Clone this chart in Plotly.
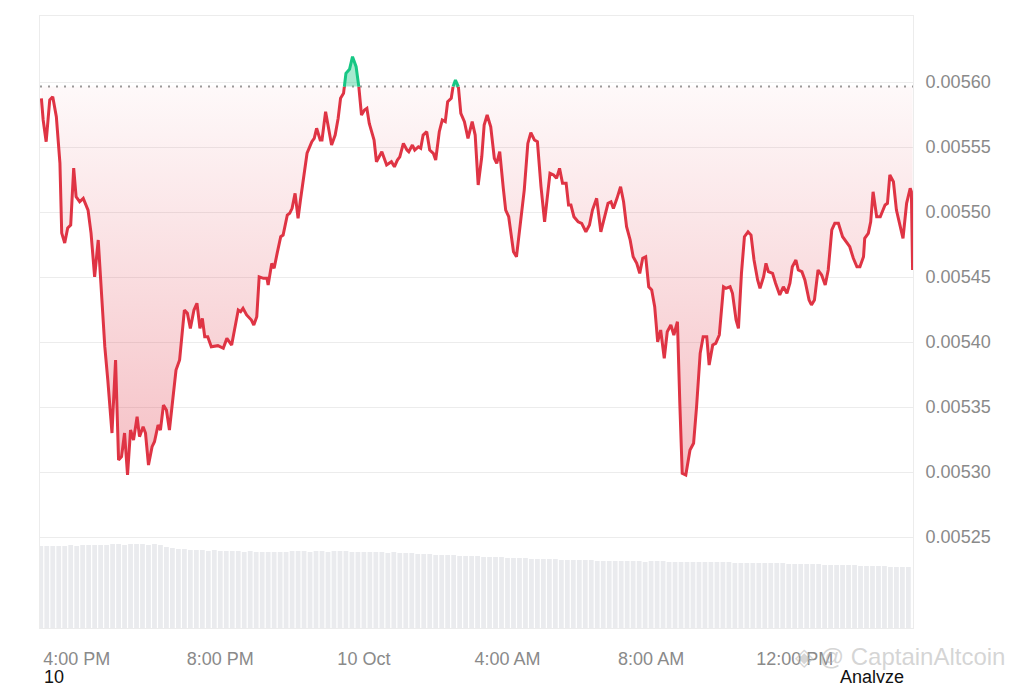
import numpy as np
import pandas as pd
import plotly.graph_objects as go

# ---------------- data ----------------
start_time = pd.Timestamp("2024-10-09 15:00")
baseline_price = 0.0055965

minutes = [1, 4, 9, 15, 20, 26, 32, 35, 40, 45, 50, 55, 59, 65, 71, 79, 84, 90, 96, 101,
           107, 112, 119, 125, 130, 135, 140, 145, 150, 155, 161, 165, 171, 175, 180, 186, 190, 196, 200, 205,
           210, 215, 221, 226, 232, 240, 245, 250, 256, 261, 266, 270, 274, 279, 285, 296, 305, 311, 319, 330,
           334, 338, 344, 352, 356, 361, 365, 372, 378, 380, 386, 390, 395, 401, 405, 412, 416, 420, 425, 430,
           434, 440, 445, 453, 457, 461, 467, 470, 476, 480, 486, 492, 497, 501, 506, 510, 516, 521, 527, 531,
           536, 541, 545, 549, 554, 557, 561, 570, 578, 586, 591, 596, 600, 606, 612, 615, 621, 625, 631, 635,
           639, 645, 650, 656, 660, 666, 671, 676, 680, 686, 689, 693, 698, 702, 708, 714, 721, 726, 731, 737,
           741, 746, 752, 758, 762, 767, 773, 777, 782, 790, 795, 801, 808, 814, 819, 825, 830, 836, 842, 846,
           851, 857, 862, 867, 872, 878, 882, 886, 891, 898, 904, 911, 917, 922, 929, 936, 942, 948, 953, 957,
           963, 969, 974, 979, 985, 990, 996, 1001, 1006, 1011, 1016, 1021, 1026, 1031, 1036, 1042, 1047, 1053, 1058, 1064,
           1068, 1072, 1078, 1085, 1091, 1096, 1102, 1107, 1113, 1117, 1123, 1128, 1134, 1141, 1145, 1152, 1156, 1162, 1166, 1171,
           1176, 1182, 1187, 1192, 1198, 1202, 1208, 1212, 1216, 1223, 1228, 1235, 1241, 1247, 1252, 1256, 1262, 1266, 1272, 1277,
           1284, 1288, 1293, 1299, 1305, 1311, 1316, 1322, 1327, 1333, 1340, 1347, 1352, 1358, 1364, 1369, 1375, 1377, 1383, 1387,
           1391, 1397, 1403, 1411, 1415, 1419, 1425, 1430, 1436, 1441, 1447, 1453, 1455, 1457]

prices = [0.0055875, 0.0055708, 0.0055541, 0.0055862, 0.0055887, 0.0055733, 0.0055377, 0.0054838, 0.0054762, 0.0054877,
          0.0054900, 0.0055338, 0.0055118, 0.0055079, 0.0055105, 0.0055015, 0.0054838, 0.0054502, 0.0054785, 0.0054425,
          0.0053964, 0.0053708, 0.0053300, 0.0053862, 0.0053092, 0.0053118, 0.0053300, 0.0052977, 0.0053323, 0.0053246,
          0.0053425, 0.0053272, 0.0053348, 0.0053300, 0.0053054, 0.0053195, 0.0053233, 0.0053362, 0.0053323, 0.0053515,
          0.0053477, 0.0053323, 0.0053605, 0.0053785, 0.0053862, 0.0054246, 0.0054221, 0.0054105, 0.0054246, 0.0054298,
          0.0054105, 0.0054182, 0.0054041, 0.0054041, 0.0053964, 0.0053972, 0.0053952, 0.0054028, 0.0053977, 0.0054246,
          0.0054233, 0.0054259, 0.0054208, 0.0054169, 0.0054131, 0.0054195, 0.0054502, 0.0054490, 0.0054490, 0.0054438,
          0.0054605, 0.0054567, 0.0054682, 0.0054810, 0.0054823, 0.0054977, 0.0054990, 0.0055028, 0.0055144, 0.0054952,
          0.0055092, 0.0055298, 0.0055452, 0.0055541, 0.0055567, 0.0055644, 0.0055554, 0.0055554, 0.0055772, 0.0055669,
          0.0055515, 0.0055592, 0.0055721, 0.0055875, 0.0055913, 0.0056067, 0.0056098, 0.0056195, 0.0056118, 0.0055990,
          0.0055746, 0.0055785, 0.0055798, 0.0055682, 0.0055592, 0.0055554, 0.0055387, 0.0055464, 0.0055362, 0.0055387,
          0.0055348, 0.0055400, 0.0055425, 0.0055528, 0.0055477, 0.0055464, 0.0055515, 0.0055477, 0.0055502, 0.0055490,
          0.0055592, 0.0055618, 0.0055477, 0.0055452, 0.0055400, 0.0055618, 0.0055708, 0.0055695, 0.0055848, 0.0055875,
          0.0055964, 0.0056015, 0.0055964, 0.0055759, 0.0055695, 0.0055567, 0.0055695, 0.0055592, 0.0055208, 0.0055425,
          0.0055669, 0.0055746, 0.0055656, 0.0055413, 0.0055375, 0.0055464, 0.0055182, 0.0055015, 0.0054964, 0.0054695,
          0.0054656, 0.0054887, 0.0055169, 0.0055528, 0.0055610, 0.0055554, 0.0055541, 0.0055195, 0.0054925, 0.0055092,
          0.0055298, 0.0055285, 0.0055259, 0.0055336, 0.0055221, 0.0055221, 0.0055054, 0.0055054, 0.0054964, 0.0054925,
          0.0054913, 0.0054848, 0.0054900, 0.0055015, 0.0055105, 0.0054848, 0.0054964, 0.0055067, 0.0055079, 0.0055028,
          0.0055105, 0.0055195, 0.0055079, 0.0054887, 0.0054785, 0.0054656, 0.0054605, 0.0054528, 0.0054644, 0.0054656,
          0.0054425, 0.0054400, 0.0054272, 0.0054002, 0.0054092, 0.0053875, 0.0054079, 0.0054131, 0.0054054, 0.0054156,
          0.0053528, 0.0052990, 0.0052977, 0.0053169, 0.0053221, 0.0053502, 0.0053913, 0.0054041, 0.0054041, 0.0053823,
          0.0053977, 0.0053990, 0.0054054, 0.0054425, 0.0054413, 0.0054425, 0.0054375, 0.0054169, 0.0054105, 0.0054528,
          0.0054810, 0.0054848, 0.0054823, 0.0054631, 0.0054477, 0.0054413, 0.0054502, 0.0054605, 0.0054541, 0.0054528,
          0.0054452, 0.0054362, 0.0054425, 0.0054375, 0.0054452, 0.0054579, 0.0054631, 0.0054554, 0.0054541, 0.0054477,
          0.0054323, 0.0054285, 0.0054323, 0.0054554, 0.0054515, 0.0054438, 0.0054554, 0.0054862, 0.0054913, 0.0054913,
          0.0054810, 0.0054759, 0.0054733, 0.0054644, 0.0054579, 0.0054579, 0.0054656, 0.0054798, 0.0054836, 0.0054925,
          0.0055156, 0.0054964, 0.0054964, 0.0055054, 0.0055067, 0.0055285, 0.0055233, 0.0055015, 0.0054887, 0.0054798,
          0.0055067, 0.0055182, 0.0055156, 0.0054554]

volumes = [8.2, 8.2, 8.2, 8.2, 8.2, 8.3, 8.2, 8.3, 8.3, 8.3,
           8.3, 8.3, 8.4, 8.4, 8.3, 8.4, 8.4, 8.4, 8.3, 8.4, 8.3,
           8.1, 8.0, 7.9, 7.9,
           7.8, 7.8, 7.8, 7.7, 7.8, 7.7, 7.7, 7.7, 7.7, 7.6, 7.7, 7.6,
           7.6, 7.6, 7.6, 7.6, 7.6, 7.7, 7.7, 7.7, 7.6, 7.7, 7.7, 7.6, 7.7, 7.7,
           7.7, 7.6, 7.6, 7.6, 7.6, 7.6, 7.6, 7.5, 7.6, 7.5,
           7.5, 7.5, 7.4, 7.4, 7.4, 7.3, 7.3, 7.3, 7.3, 7.2, 7.2, 7.2, 7.2, 7.1, 7.1,
           7.1, 7.1, 7.0, 7.0, 7.0, 7.0, 6.9, 6.9, 6.9, 6.9, 6.9, 6.8, 6.8, 6.8, 6.8,
           6.8, 6.8, 6.7, 6.7, 6.7, 6.7, 6.7, 6.7, 6.7, 6.7, 6.6, 6.7, 6.7, 6.7, 6.6, 6.6, 6.6, 6.6, 6.6, 6.6,
           6.6, 6.6, 6.6, 6.6, 6.6, 6.5, 6.5, 6.5, 6.5, 6.5, 6.5, 6.5, 6.5, 6.5, 6.4,
           6.4, 6.4, 6.4, 6.4, 6.4, 6.3, 6.3, 6.3, 6.3, 6.3, 6.3, 6.2, 6.2, 6.2, 6.2, 6.2, 6.1, 6.1, 6.1, 6.1]

tick_hours = [1, 5, 9, 13, 17, 21]
tick_labels = ["4:00 PM", "8:00 PM", "10 Oct", "4:00 AM", "8:00 AM", "12:00 PM"]
y_ticks = [0.00525, 0.00530, 0.00535, 0.00540, 0.00545, 0.00550, 0.00555, 0.00560]

# ---------------- split at baseline ----------------
t = np.array(minutes, dtype=float)
p = np.array(prices, dtype=float)
dt, dp = [t[0]], [p[0]]
for i in range(1, len(t)):
    a, b = p[i - 1] - baseline_price, p[i] - baseline_price
    if a * b < 0:
        f = a / (a - b)
        dt.append(t[i - 1] + f * (t[i] - t[i - 1]))
        dp.append(baseline_price)
    dt.append(t[i])
    dp.append(p[i])
dtimes = [start_time + pd.Timedelta(minutes=float(m)) for m in dt]
below = [min(v, baseline_price) for v in dp]
above = [max(v, baseline_price) for v in dp]
red_line = [v if v <= baseline_price else None for v in dp]
green_line = [v if v >= baseline_price else None for v in dp]
base_vals = [baseline_price] * len(dp)

vol_times = pd.date_range(start_time, periods=len(volumes), freq="10min")

RED = "#df3444"
GREEN = "#16c784"
FONT = "Liberation Sans, Arial, sans-serif"

fig = go.Figure()

# volume bars (secondary axis)
fig.add_trace(go.Bar(x=vol_times, y=volumes, yaxis="y2", marker=dict(color="#eaebee", line=dict(width=0)),
                     hoverinfo="skip"))

# red fill below baseline
fig.add_trace(go.Scatter(x=dtimes, y=base_vals, mode="lines", line=dict(width=0), hoverinfo="skip"))
fig.add_trace(go.Scatter(x=dtimes, y=below, mode="lines", line=dict(width=0), fill="tonexty",
                         fillgradient=dict(type="vertical",
                                           colorscale=[[0, "rgba(223,52,68,0.32)"], [1, "rgba(223,52,68,0.03)"]],
                                           start=0.00529, stop=baseline_price),
                         hoverinfo="skip"))
# green fill above baseline
fig.add_trace(go.Scatter(x=dtimes, y=base_vals, mode="lines", line=dict(width=0), hoverinfo="skip"))
fig.add_trace(go.Scatter(x=dtimes, y=above, mode="lines", line=dict(width=0), fill="tonexty",
                         fillcolor="rgba(22,199,132,0.38)", hoverinfo="skip"))
# lines
fig.add_trace(go.Scatter(x=dtimes, y=red_line, mode="lines", line=dict(color=RED, width=3),
                         connectgaps=False, hoverinfo="skip"))
fig.add_trace(go.Scatter(x=dtimes, y=green_line, mode="lines", line=dict(color=GREEN, width=3),
                         connectgaps=False, hoverinfo="skip"))

fig.add_shape(type="line", xref="paper", x0=0, x1=1, yref="y", y0=baseline_price, y1=baseline_price,
              line=dict(color="#9a9a9a", width=2, dash="2px,6px"), layer="below")

x_start = start_time - pd.Timedelta(minutes=1.3)
x_end = start_time + pd.Timedelta(minutes=1457.7)

fig.update_layout(
    width=1024, height=683,
    margin=dict(l=40, r=111, t=16, b=55),
    paper_bgcolor="white", plot_bgcolor="white",
    showlegend=False, hovermode=False, bargap=0.2,
    font=dict(family=FONT, size=18, color="#8a8a8a"),
    xaxis=dict(type="date", range=[x_start, x_end],
               tickvals=[start_time + pd.Timedelta(hours=h) for h in tick_hours],
               ticktext=tick_labels, showgrid=False, zeroline=False,
               ticks="outside", ticklen=14, tickcolor="rgba(0,0,0,0)",
               showline=True, linecolor="#ececec", linewidth=1, mirror=True,
               tickfont=dict(size=18, color="#8a8a8a")),
    yaxis=dict(range=[0.00518, 0.0056508], side="right", tickvals=y_ticks,
               ticktext=[f"{v:.5f}" for v in y_ticks],
               showgrid=True, gridcolor="#ececec", gridwidth=1, zeroline=False,
               ticks="outside", ticklen=8, tickcolor="rgba(0,0,0,0)",
               showline=True, linecolor="#ececec", linewidth=1, mirror=True,
               tickfont=dict(size=18, color="#8a8a8a")),
    yaxis2=dict(range=[0, 61.2], overlaying="y", visible=False),
)

fig.add_annotation(text="10", xref="paper", yref="paper", x=0.0023, y=-0.08,
                   xanchor="left", yanchor="middle", showarrow=False,
                   font=dict(family=FONT, size=18, color="#111111"))
fig.add_annotation(text="Analyze", xref="paper", yref="paper", x=0.914, y=-0.08,
                   xanchor="left", yanchor="middle", showarrow=False,
                   font=dict(family=FONT, size=18, color="#111111"))
fig.add_annotation(text="◈ @ CaptainAltcoin", xref="paper", yref="paper", x=0.862, y=-0.0458,
                   xanchor="left", yanchor="middle", showarrow=False,
                   font=dict(family=FONT, size=24, color="rgba(185,185,185,0.6)"))

fig.write_html("out.html", config={"displayModeBar": False},
               post_script="document.body.style.margin='0px';")
